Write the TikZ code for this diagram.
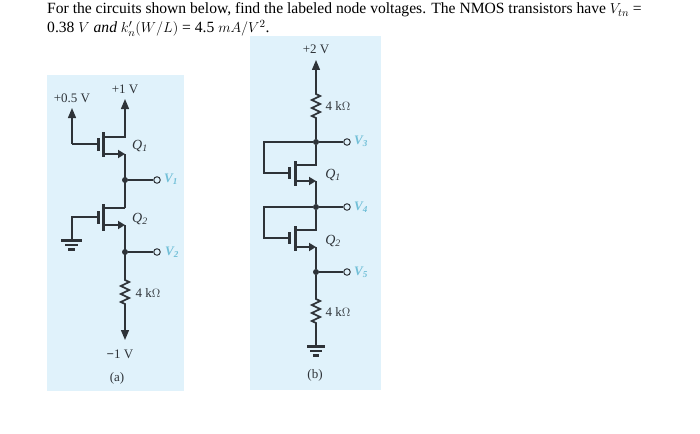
\documentclass[tikz,border=0pt]{standalone}
\usepackage{amsmath}
\usepackage{fontspec}
\setmainfont{Liberation Serif}
\usetikzlibrary{arrows.meta,decorations.pathmorphing}
\definecolor{panelblue}{HTML}{E0F2FB}
\definecolor{wiregray}{HTML}{2E3338}
\definecolor{labelblue}{HTML}{72C0D8}
\tikzset{
	wire/.style={draw=wiregray,line width=1.3pt},
	plate/.style={draw=wiregray,line width=3pt},
	supply/.style={wire,-{Triangle[length=10pt,width=8pt]}},
	sourcearrow/.style={wire,line width=1.7pt,-{Triangle[length=7pt,width=8pt]}},
	resistor/.style={wire,line width=1.7pt,decorate,decoration={zigzag,amplitude=4.2pt,segment length=8pt,pre length=1pt,post length=1pt}},
	junction/.style={circle,fill=wiregray,inner sep=0pt,minimum size=6pt},
	terminal/.style={circle,draw=wiregray,fill=panelblue,line width=1pt,inner sep=0pt,minimum size=6.5pt},
	value/.style={text=wiregray,font=\fontsize{13}{15}\selectfont,inner sep=0pt},
	device/.style={text=wiregray,font=\fontsize{14}{16}\selectfont\itshape,inner sep=0pt},
	voltage/.style={text=labelblue,font=\fontsize{13}{16}\selectfont\itshape\bfseries,inner sep=0pt},
	statement/.style={anchor=base west,inner sep=0pt,font=\fontsize{15.6}{18}\selectfont},
	groundbar/.style={draw=wiregray,line width=2.6pt}
}
\begin{document}
\begin{tikzpicture}[x=1pt,y=-1pt]
	\useasboundingbox (0,0) rectangle (700,433);
	\fill [white] (0,0) rectangle (700,433);
	\fill [panelblue] (47,75) rectangle (184,391);
	\fill [panelblue] (250,36) rectangle (381,390);
	% problem statement
	\node (line1) [statement] at (47,14) {For the circuits shown below, find the labeled node voltages. The NMOS transistors have $V_{tn}$ =};
	\node (line2) [statement] at (47,33) {0.38 $V$ \textit{and} $k_n'(W/L)$ = 4.5 $mA/V^2$.};
	% circuit a
	\coordinate (aG1up) at (72,108);
	\coordinate (aG1) at (72,144);
	\coordinate (aP1) at (98,144);
	\coordinate (aD1in) at (103,137);
	\coordinate (aD1) at (125,137);
	\coordinate (aVdd) at (125,99);
	\coordinate (aS1in) at (103,154);
	\coordinate (aS1) at (125,154);
	\coordinate (aD2) at (125,208);
	\coordinate (aD2in) at (103,208);
	\coordinate (aG2) at (72,217);
	\coordinate (aP2) at (98,217);
	\coordinate (aS2in) at (103,225);
	\coordinate (aS2) at (125,225);
	\coordinate (aGnd) at (72,240);
	\coordinate (aR1) at (125,279);
	\coordinate (aR2) at (125,307);
	\coordinate (aVss) at (125,340);
	\coordinate (aN1c) at (125,180);
	\coordinate (aN2c) at (125,252);
	\draw [supply] (aG1) -- (aG1up);
	\draw [wire] (aG1) -- (aP1);
	\draw [plate] (98,138) -- (98,151);
	\draw [plate] (103,132) -- (103,157);
	\draw [supply] (aD1in) -- (aD1) -- (aVdd);
	\draw [sourcearrow] (aS1in) -- (aS1);
	\draw [wire] (aS1) -- (aN1c);
	\draw [wire] (aN1c) -- (aD2);
	\draw [wire] (aD2) -- (aD2in);
	\draw [wire] (aGnd) -- (aG2) -- (aP2);
	\draw [plate] (98,211) -- (98,224);
	\draw [plate] (103,204) -- (103,231);
	\draw [sourcearrow] (aS2in) -- (aS2);
	\draw [wire] (aS2) -- (aN2c);
	\draw [wire] (aN2c) -- (aR1);
	\draw [resistor] (aR1) -- (aR2);
	\draw [supply] (aR2) -- (aVss);
	\node (aN1) [junction] at (aN1c) {};
	\node (aT1) [terminal] at (157,180) {};
	\node (aN2) [junction] at (aN2c) {};
	\node (aT2) [terminal] at (157,252) {};
	\draw [wire] (aN1) -- (aT1);
	\draw [wire] (aN2) -- (aT2);
	\draw [groundbar] (61,240.5) -- (82,240.5);
	\draw [groundbar] (65,245) -- (78,245);
	\draw [groundbar] (68,249.5) -- (75,249.5);
	\node (aL05) [value] at (72,98) {+0.5 V};
	\node (aL1) [value] at (125,89) {+1 V};
	\node (aQ1) [device] at (140,146) {Q\textsubscript{1}};
	\node (aQ2) [device] at (140,219) {Q\textsubscript{2}};
	\node (aV1) [voltage] at (171,179) {V\textsubscript{1}};
	\node (aV2) [voltage] at (172,252) {V\textsubscript{2}};
	\node (aRL) [value] at (148,293) {4 k$\Omega$};
	\node (aLm1) [value] at (120,354) {\textbf{−}1 V};
	\node (aCap) [value] at (117,378) {(a)};
	% circuit b
	\coordinate (bVdd) at (316,60);
	\coordinate (bR1) at (316,92);
	\coordinate (bR2) at (316,119);
	\coordinate (bL1top) at (264,142);
	\coordinate (bL1bot) at (264,173);
	\coordinate (bP1) at (289,173);
	\coordinate (bD1in) at (295,165);
	\coordinate (bD1) at (316,165);
	\coordinate (bS1in) at (295,181);
	\coordinate (bS1) at (316,181);
	\coordinate (bL2top) at (264,207);
	\coordinate (bL2bot) at (264,238);
	\coordinate (bP2) at (289,238);
	\coordinate (bD2in) at (295,230);
	\coordinate (bD2) at (316,230);
	\coordinate (bS2in) at (295,247);
	\coordinate (bS2) at (316,247);
	\coordinate (bR3) at (316,298);
	\coordinate (bR4) at (316,325);
	\coordinate (bGnd) at (316,346);
	\draw [supply] (bR1) -- (bVdd);
	\draw [resistor] (bR2) -- (bR1);
	\node (bN3) [junction] at (316,142) {};
	\node (bT3) [terminal] at (347,142) {};
	\node (bN4) [junction] at (316,207) {};
	\node (bT4) [terminal] at (347,207) {};
	\node (bN5) [junction] at (316,272) {};
	\node (bT5) [terminal] at (347,272) {};
	\draw [wire] (bN3) -- (bR2);
	\draw [wire] (bN3) -- (bT3);
	\draw [wire] (bN3) -- (bL1top) -- (bL1bot) -- (bP1);
	\draw [wire] (bN3) -- (bD1) -- (bD1in);
	\draw [plate] (289,167) -- (289,179);
	\draw [plate] (295,161) -- (295,186);
	\draw [sourcearrow] (bS1in) -- (bS1);
	\draw [wire] (bS1) -- (bN4);
	\draw [wire] (bN4) -- (bT4);
	\draw [wire] (bN4) -- (bL2top) -- (bL2bot) -- (bP2);
	\draw [wire] (bN4) -- (bD2) -- (bD2in);
	\draw [plate] (289,232) -- (289,244);
	\draw [plate] (295,226) -- (295,251);
	\draw [sourcearrow] (bS2in) -- (bS2);
	\draw [wire] (bS2) -- (bN5);
	\draw [wire] (bN5) -- (bT5);
	\draw [wire] (bN5) -- (bR3);
	\draw [resistor] (bR3) -- (bR4);
	\draw [wire] (bR4) -- (bGnd);
	\draw [groundbar] (307,346.5) -- (325,346.5);
	\draw [groundbar] (310,351) -- (322,351);
	\draw [groundbar] (313,355.5) -- (319,355.5);
	\node (bL2) [value] at (316,49) {+2 V};
	\node (bRL1) [value] at (338,106) {4 k$\Omega$};
	\node (bQ1) [device] at (333,175) {Q\textsubscript{1}};
	\node (bQ2) [device] at (333,241) {Q\textsubscript{2}};
	\node (bV3) [voltage] at (361,141) {V\textsubscript{3}};
	\node (bV4) [voltage] at (361,207) {V\textsubscript{4}};
	\node (bV5) [voltage] at (361,272) {V\textsubscript{5}};
	\node (bRL2) [value] at (338,312) {4 k$\Omega$};
	\node (bCap) [value] at (315,375) {(b)};
\end{tikzpicture}
\end{document}
